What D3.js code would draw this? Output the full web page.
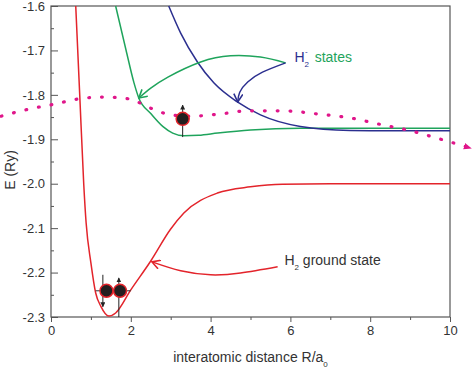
<!DOCTYPE html>
<html>
<head>
<meta charset="utf-8">
<script src="https://cdn.jsdelivr.net/npm/d3@7"></script>
<style>
body { margin: 0; background: #fff; }
text { font-family: "Liberation Sans", Arial, sans-serif; }
</style>
</head>
<body>
<div id="chart"></div>
<script>
const svgWidth = 474, svgHeight = 372;
const margin = { top: 6, right: 24, bottom: 55, left: 51 };
const width = svgWidth - margin.left - margin.right;
const height = svgHeight - margin.top - margin.bottom;

// potential curves (R in a0, E in Ry)
const groundR = [0.62, 0.72, 0.82, 0.88, 1.0, 1.12, 1.25, 1.45, 1.62, 2.0, 2.5, 3.0, 3.33, 4.17, 5.0, 5.8, 7.0, 10.0];
const groundE = [-1.600, -1.800, -2.000, -2.088, -2.178, -2.246, -2.276, -2.298, -2.291, -2.239, -2.174, -2.102, -2.066, -2.021, -2.007, -2.001, -2.000, -2.000];

const greenR = [1.62, 1.88, 2.08, 2.2, 2.5, 2.8, 3.05, 3.33, 3.7, 4.18, 5.0, 6.25, 8.0, 10.0];
const greenE = [-1.600, -1.699, -1.773, -1.807, -1.842, -1.871, -1.886, -1.892, -1.891, -1.886, -1.879, -1.875, -1.875, -1.875];

const blueR = [2.95, 3.25, 3.67, 4.08, 4.67, 5.25, 6.25, 7.5, 8.5, 10.0];
const blueE = [-1.600, -1.661, -1.726, -1.773, -1.816, -1.845, -1.871, -1.880, -1.881, -1.881];

// dotted magenta path (runs past the frame on both sides)
const dotR = [-1.25, -0.55, 0.08, 0.7, 1.33, 1.95, 2.5, 3.0, 3.5, 4.25, 4.93, 5.83, 6.68, 7.5, 8.33, 8.93, 9.58, 10.0, 10.45];
const dotE = [-1.848, -1.832, -1.821, -1.809, -1.805, -1.809, -1.830, -1.845, -1.848, -1.843, -1.836, -1.836, -1.843, -1.852, -1.868, -1.879, -1.895, -1.906, -1.918];

// annotation arrows
const redArrowR = [5.68, 4.75, 4.0, 3.25, 2.53];
const redArrowE = [-2.187, -2.201, -2.205, -2.196, -2.176];
const greenArrowR = [5.88, 5.25, 4.5, 3.75, 2.93, 2.5, 2.2];
const greenArrowE = [-1.728, -1.715, -1.712, -1.726, -1.760, -1.785, -1.807];
const blueArrowR = [5.88, 5.3, 4.93, 4.73, 4.68];
const blueArrowE = [-1.728, -1.749, -1.771, -1.794, -1.816];

// electrons: position and spin arrows
const electronR = [3.3, 1.39, 1.73];
const electronE = [-1.854, -2.241, -2.241];
const spinR = [3.3, 1.3, 1.7];
const spinFrom = [-1.895, -2.205, -2.300];
const spinTo = [-1.823, -2.277, -2.212];

const xTicks = [0, 2, 4, 6, 8, 10];
const xMinor = [1, 3, 5, 7, 9];
const yTicks = [-1.6, -1.7, -1.8, -1.9, -2.0, -2.1, -2.2, -2.3];
const yMinor = [-1.65, -1.75, -1.85, -1.95, -2.05, -2.15, -2.25];

const svg = d3.select("#chart").append("svg")
  .attr("width", svgWidth)
  .attr("height", svgHeight);

const defs = svg.append("defs");
function openHead(id, color) {
  defs.append("marker")
    .attr("id", id)
    .attr("viewBox", "0 0 10 10")
    .attr("refX", 9).attr("refY", 5)
    .attr("markerWidth", 10).attr("markerHeight", 10)
    .attr("markerUnits", "userSpaceOnUse")
    .attr("orient", "auto")
    .append("path")
    .attr("d", "M1,0.5 L9,5 L1,9.5")
    .attr("fill", "none")
    .attr("stroke", color)
    .attr("stroke-width", 1.6);
}
openHead("headRed", "#e3242b");
openHead("headGreen", "#1fa45c");
openHead("headBlue", "#2b2f8f");
defs.append("marker")
  .attr("id", "spin")
  .attr("viewBox", "0 0 10 10")
  .attr("refX", 9).attr("refY", 5)
  .attr("markerWidth", 5).attr("markerHeight", 5)
  .attr("markerUnits", "userSpaceOnUse")
  .attr("orient", "auto")
  .append("path")
  .attr("d", "M0,0 L10,5 L0,10 Z")
  .attr("fill", "#222");
defs.append("marker")
  .attr("id", "dotHead")
  .attr("viewBox", "0 0 10 10")
  .attr("refX", 5).attr("refY", 5)
  .attr("markerWidth", 8).attr("markerHeight", 8)
  .attr("markerUnits", "userSpaceOnUse")
  .attr("orient", "auto")
  .append("path")
  .attr("d", "M0,1 L10,5 L0,9 Z")
  .attr("fill", "#e0168a");

const chartGroup = svg.append("g")
  .attr("transform", `translate(${margin.left}, ${margin.top})`);

const x = d3.scaleLinear().domain([0, 10]).range([0, width]);
const y = d3.scaleLinear().domain([-1.6, -2.3]).range([0, height]);

const fmt = d => d3.format(".1f")(d).replace("\u2212", "-");

// axes
chartGroup.append("g")
  .attr("transform", `translate(0, ${height})`)
  .call(d3.axisBottom(x).tickValues(xTicks).tickSize(5).tickPadding(4).tickFormat(d3.format("d")));
chartGroup.append("g")
  .attr("transform", `translate(0, ${height})`)
  .call(d3.axisBottom(x).tickValues(xMinor).tickSize(3).tickFormat(""));
chartGroup.append("g")
  .call(d3.axisLeft(y).tickValues(yTicks).tickSize(-7).tickPadding(6).tickFormat(fmt));
chartGroup.append("g")
  .call(d3.axisLeft(y).tickValues(yMinor).tickSize(-3).tickFormat(""));

chartGroup.selectAll(".domain").remove();
chartGroup.selectAll(".tick line").attr("stroke", "#555");
chartGroup.selectAll(".tick text")
  .attr("fill", "#333")
  .style("font-size", "13px");

chartGroup.append("rect")
  .attr("width", width)
  .attr("height", height)
  .attr("fill", "none")
  .attr("stroke", "#555")
  .attr("stroke-width", 1.2);

const pairs = (a, b) => a.map((v, i) => [v, b[i]]);
const curveLine = d3.line()
  .x(d => x(d[0]))
  .y(d => y(d[1]))
  .curve(d3.curveMonotoneX);
const arcLine = d3.line()
  .x(d => x(d[0]))
  .y(d => y(d[1]))
  .curve(d3.curveNatural);

chartGroup.append("path")
  .attr("d", curveLine(pairs(groundR, groundE)))
  .attr("fill", "none").attr("stroke", "#e3242b").attr("stroke-width", 1.5);
chartGroup.append("path")
  .attr("d", curveLine(pairs(greenR, greenE)))
  .attr("fill", "none").attr("stroke", "#1fa45c").attr("stroke-width", 1.5);
chartGroup.append("path")
  .attr("d", curveLine(pairs(blueR, blueE)))
  .attr("fill", "none").attr("stroke", "#2b2f8f").attr("stroke-width", 1.5);

// annotation arrows
chartGroup.append("path")
  .attr("d", arcLine(pairs(redArrowR, redArrowE)))
  .attr("fill", "none").attr("stroke", "#e3242b").attr("stroke-width", 1.5)
  .attr("marker-end", "url(#headRed)");
chartGroup.append("path")
  .attr("d", arcLine(pairs(greenArrowR, greenArrowE)))
  .attr("fill", "none").attr("stroke", "#1fa45c").attr("stroke-width", 1.5)
  .attr("marker-end", "url(#headGreen)");
chartGroup.append("path")
  .attr("d", arcLine(pairs(blueArrowR, blueArrowE)))
  .attr("fill", "none").attr("stroke", "#2b2f8f").attr("stroke-width", 1.5)
  .attr("marker-end", "url(#headBlue)");

// dotted path
chartGroup.append("path")
  .attr("d", curveLine(pairs(dotR, dotE)))
  .attr("fill", "none")
  .attr("stroke", "#e0168a")
  .attr("stroke-width", 3.2)
  .attr("stroke-linecap", "round")
  .attr("stroke-dasharray", "0.8 12")
  .attr("marker-end", "url(#dotHead)");

// electron pair bond
chartGroup.append("line")
  .attr("x1", x(1.12)).attr("x2", x(2.0))
  .attr("y1", y(-2.241)).attr("y2", y(-2.241))
  .attr("stroke", "#333").attr("stroke-width", 1);

// spin arrows
chartGroup.selectAll(".spin")
  .data(spinR)
  .enter()
  .append("line")
  .attr("class", "spin")
  .attr("x1", d => x(d)).attr("x2", d => x(d))
  .attr("y1", (d, i) => y(spinFrom[i]))
  .attr("y2", (d, i) => y(spinTo[i]))
  .attr("stroke", "#222").attr("stroke-width", 1)
  .attr("marker-end", "url(#spin)");

chartGroup.selectAll(".electron")
  .data(electronR)
  .enter()
  .append("circle")
  .attr("class", "electron")
  .attr("cx", d => x(d))
  .attr("cy", (d, i) => y(electronE[i]))
  .attr("r", 6.5)
  .attr("fill", "#231f20")
  .attr("stroke", "#e3242b")
  .attr("stroke-width", 1.5);

// labels
const h2minus = chartGroup.append("text")
  .attr("x", x(6.1)).attr("y", y(-1.725))
  .style("font-size", "14px");
h2minus.append("tspan").attr("fill", "#2b2f8f").text("H");
h2minus.append("tspan").attr("fill", "#2b2f8f").attr("dy", 5).style("font-size", "8px").text("2");
h2minus.append("tspan").attr("fill", "#2b2f8f").attr("dx", -4).attr("dy", -13).style("font-size", "8px").text("-");
h2minus.append("tspan").attr("fill", "#1fa45c").attr("dx", 7).attr("dy", 8).text("states");

const h2ground = chartGroup.append("text")
  .attr("x", x(5.85)).attr("y", y(-2.183))
  .attr("fill", "#333")
  .style("font-size", "14px");
h2ground.append("tspan").text("H");
h2ground.append("tspan").attr("dy", 5).style("font-size", "8px").text("2");
h2ground.append("tspan").attr("dy", -5).text(" ground state");

// axis titles
const xTitle = svg.append("text")
  .attr("x", margin.left + width / 2)
  .attr("y", 362)
  .attr("text-anchor", "middle")
  .attr("fill", "#333")
  .style("font-size", "14px");
xTitle.append("tspan").text("interatomic distance R/a");
xTitle.append("tspan").attr("dy", 5).style("font-size", "8px").text("0");

svg.append("text")
  .attr("transform", "rotate(-90)")
  .attr("x", -170)
  .attr("y", 15)
  .attr("text-anchor", "middle")
  .attr("fill", "#333")
  .style("font-size", "14px")
  .text("E (Ry)");
</script>
</body>
</html>
